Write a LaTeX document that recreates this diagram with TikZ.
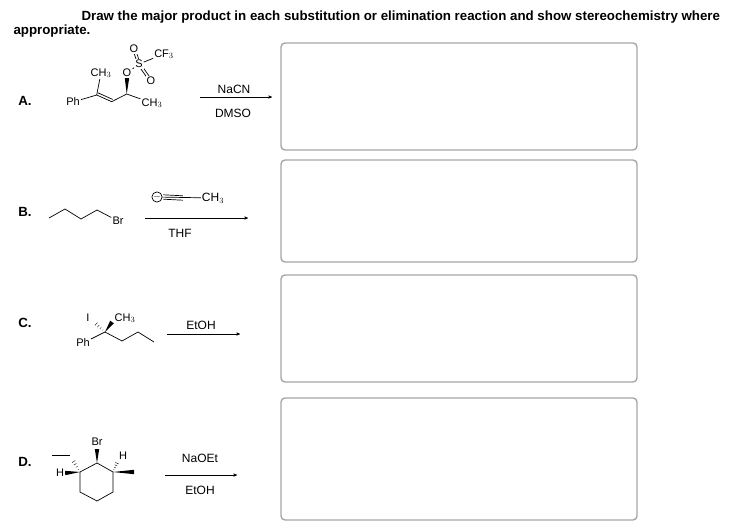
\documentclass[tikz,border=0pt]{standalone}
\usepackage{fontspec}
\setmainfont{Liberation Sans}
\usetikzlibrary{calc,arrows}
\tikzset{
  % Define standard arrow tip
  >=stealth',
  % answer boxes
  box/.style={draw=gray!70, line width=1.4pt, rounded corners=4pt},
  % reaction arrow
  rxn/.style={->, thin},
  % text styles
  lbl/.style={font=\fontsize{12}{14}\selectfont, inner sep=1pt},
  atom/.style={font=\fontsize{11}{13}\selectfont, inner sep=1pt, fill=white},
  letter/.style={font=\bfseries\fontsize{13.3}{15}\selectfont},
  bond/.style={line width=0.7pt},
  dbl/.style={bond, shorten <=5pt, shorten >=5pt},
}
% wedge and hash bonds
\newcommand{\wdg}[2]{\fill #1 -- ($#2!2.2pt!90:#1$) -- ($#2!2.2pt!-90:#1$) -- cycle;}
\newcommand{\hsh}[2]{\foreach \t in {0.2,0.4,0.6,0.8,1.0}{
  \path ($#1!\t!#2$) coordinate (hm);
  \draw[thin] ($(hm)!\t*2.4pt!90:#2$) -- ($(hm)!\t*2.4pt!-90:#2$);}}

\begin{document}
\begin{tikzpicture}[x=1pt, y=-1pt]
  \useasboundingbox (0,0) rectangle (731,527);
  % title
  \node[letter, anchor=west] (title) at (78,17) {Draw the major product in each substitution or elimination reaction and show stereochemistry where};
  \node[letter, anchor=west] (title2) at (10,31) {appropriate.};
  % answer boxes
  \draw[box] (281,43) rectangle (637,150);
  \draw[box] (281,160) rectangle (637,262);
  \draw[box] (281,275) rectangle (637,382);
  \draw[box] (281,398) rectangle (637,520);
  % letters
  \node[letter] (la) at (25,101) {A.};
  \node[letter] (lb) at (25,212) {B.};
  \node[letter] (lc) at (25,323) {C.};
  \node[letter] (ld) at (25,462) {D.};

  % A
  \coordinate (ac1) at (96.7,95);
  \coordinate (ac2) at (111.7,101.7);
  \coordinate (ac3) at (126.7,94);
  \coordinate (as0) at (139,64);
  \coordinate (ao10) at (134,49);
  \coordinate (ao20) at (151,81);
  \draw[dbl] ($(as0)!1.3pt!90:(ao10)$) -- ($(ao10)!1.3pt!-90:(as0)$);
  \draw[dbl] ($(as0)!1.3pt!-90:(ao10)$) -- ($(ao10)!1.3pt!90:(as0)$);
  \draw[dbl] ($(as0)!1.3pt!90:(ao20)$) -- ($(ao20)!1.3pt!-90:(as0)$);
  \draw[dbl] ($(as0)!1.3pt!-90:(ao20)$) -- ($(ao20)!1.3pt!90:(as0)$);
  \node[atom] (aph) at (73,102) {Ph};
  \node[atom] (ame) at (101,73) {CH$_3$};
  \node[atom] (ame2) at (152,103) {CH$_3$};
  \node[atom] (ao) at (127,73) {O};
  \node[atom] (as) at (as0) {S};
  \node[atom] (ao1) at (ao10) {O};
  \node[atom] (ao2) at (ao20) {O};
  \node[atom] (acf) at (164,54) {CF$_3$};
  \draw[bond] (aph) -- (ac1) -- (ame);
  \draw[bond] (ac1) -- (ac2) -- (ac3) -- (ame2);
  \draw[bond] ($(ac1)!2.5pt!90:(ac2)$) -- ($(ac2)!2.5pt!-90:(ac1)$);
  \wdg{(ac3)}{(ao.south)}
  \draw[bond] (ao) -- (as) -- (acf);
  \coordinate (a1) at (200,97);
  \coordinate (a2) at (272,97);
  \draw[rxn] (a1) -- (a2);
  \node[lbl] (ar1) at (234,89) {NaCN};
  \node[lbl] (ar2) at (233,113) {DMSO};

  % B
  \node[atom] (bbr) at (118,221) {Br};
  \draw[bond] (49,218) -- (65,209) -- (81,219) -- (97,210) -- (bbr);
  \node[lbl, draw, circle, inner sep=0pt, minimum size=8pt, line width=0.7pt] (bmin) at (157,197) {\fontsize{10}{10}\selectfont$-$};
  \node[lbl] (bme) at (213,198) {CH$_3$};
  \draw[bond] (bmin) -- (bme);
  \draw[bond] ($(bmin.east)+(1,-2.2)$) -- ($(bme.west)+(-18,-2.2)$);
  \draw[bond] ($(bmin.east)+(1,2.2)$) -- ($(bme.west)+(-18,2.2)$);
  \coordinate (b1) at (145,218);
  \coordinate (b2) at (248,218);
  \draw[rxn] (b1) -- (b2);
  \node[lbl] (br1) at (180,233) {THF};

  % C
  \node[atom] (ci) at (88,318) {I};
  \node[atom] (cme) at (125,318) {CH$_3$};
  \node[atom] (cph) at (83,343) {Ph};
  \coordinate (cc) at (105,332);
  \hsh{(cc)}{(94,322)}
  \wdg{(cc)}{(112,322)}
  \draw[bond] (cph) -- (cc) -- (122,341) -- (138,332) -- (154,342);
  \coordinate (c1) at (167,334);
  \coordinate (c2) at (240,334);
  \draw[rxn] (c1) -- (c2);
  \node[lbl] (cr1) at (201,325) {EtOH};

  % D
  \coordinate (d1) at (97,463);
  \coordinate (d2) at (113,472);
  \coordinate (d3) at (113,492);
  \coordinate (d4) at (97,501);
  \coordinate (d5) at (80,492);
  \coordinate (d6) at (80,472);
  \draw[bond] (d1) -- (d2) -- (d3) -- (d4) -- (d5) -- (d6) -- cycle;
  \node[atom] (dbr) at (97,442) {Br};
  \wdg{(d1)}{(97,449)}
  \node[atom] (dh1) at (123,456) {H};
  \hsh{(d2)}{(118,461)}
  \wdg{(d2)}{(134,472)}
  \hsh{(d6)}{(72,459)}
  \draw[bond] (52,455) -- (70,455);
  \node[atom] (dh2) at (60,473) {H};
  \wdg{(d6)}{(dh2.east)}
  \coordinate (e1) at (165,475);
  \coordinate (e2) at (237,475);
  \draw[rxn] (e1) -- (e2);
  \node[lbl] (dr1) at (200,458) {NaOEt};
  \node[lbl] (dr2) at (200,490) {EtOH};
\end{tikzpicture}
\end{document}
